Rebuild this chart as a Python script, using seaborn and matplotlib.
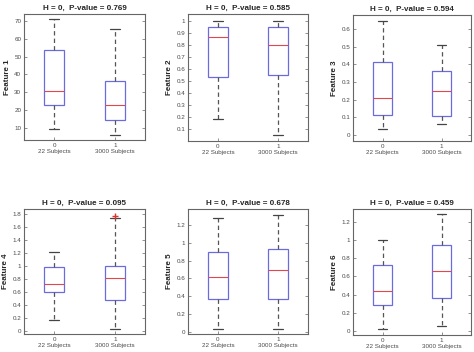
import numpy as np
import pandas as pd
import matplotlib
matplotlib.use("Agg")
import matplotlib.pyplot as plt
import seaborn as sns
from matplotlib.ticker import FormatStrFormatter

features = ["Feature 1", "Feature 2", "Feature 3", "Feature 4", "Feature 5", "Feature 6"]
h_values = ["0", "0", "0", "0", "0", "0"]
p_values = ["0.769", "0.585", "0.594", "0.095", "0.678", "0.459"]
group_labels = ["0\n22 Subjects", "1\n3000 Subjects"]

# five-number summaries: [lower whisker, q1, median, q3, upper whisker]
g0_stats = [
    [9, 22.5, 30.5, 53.5, 71],
    [0.18, 0.535, 0.865, 0.95, 1.0],
    [0.035, 0.115, 0.21, 0.415, 0.645],
    [0.17, 0.61, 0.73, 0.98, 1.21],
    [0.04, 0.37, 0.62, 0.90, 1.27],
    [0.02, 0.29, 0.44, 0.725, 1.0],
]
g1_stats = [
    [6, 14, 23, 36.5, 65.5],
    [0.05, 0.55, 0.80, 0.95, 1.0],
    [0.06, 0.11, 0.25, 0.36, 0.51],
    [0.04, 0.48, 0.82, 1.0, 1.74],
    [0.04, 0.37, 0.70, 0.93, 1.31],
    [0.05, 0.36, 0.655, 0.95, 1.28],
]
g0_outliers = [[], [], [], [], [], []]
g1_outliers = [[], [], [], [1.77], [], []]

ylims = [(3, 74), (0, 1.055), (-0.034, 0.679), (-0.04, 1.877), (-0.02, 1.376), (-0.044, 1.34)]
yticks = [
    [10, 20, 30, 40, 50, 60, 70],
    [0.1, 0.2, 0.3, 0.4, 0.5, 0.6, 0.7, 0.8, 0.9, 1.0],
    [0, 0.1, 0.2, 0.3, 0.4, 0.5, 0.6],
    [0, 0.2, 0.4, 0.6, 0.8, 1.0, 1.2, 1.4, 1.6, 1.8],
    [0, 0.2, 0.4, 0.6, 0.8, 1.0, 1.2],
    [0, 0.2, 0.4, 0.6, 0.8, 1.0, 1.2],
]


def sample(stats, outliers):
    lo, q1, med, q3, hi = stats
    if not outliers:
        return [lo, q1, med, q3, hi]
    return [lo, q1, q1, med, med, q3, q3, hi] + list(outliers)


sns.set_style("white")
plt.rcParams["font.family"] = ["Liberation Sans", "DejaVu Sans"]

fig = plt.figure(figsize=(4.74, 3.52), dpi=100)
W, H = 474.0, 352.0
# axes boxes in pixels: left, top, right, bottom
boxes = [
    (24, 14, 145, 140), (188, 14, 308, 141), (353, 15, 471, 141),
    (24, 209, 145, 334), (188, 209, 308, 334), (353, 209, 471, 335),
]

for i in range(6):
    l, t, r, b = boxes[i]
    ax = fig.add_axes([l / W, (H - b) / H, (r - l) / W, (b - t) / H])
    v0 = sample(g0_stats[i], g0_outliers[i])
    v1 = sample(g1_stats[i], g1_outliers[i])
    df = pd.DataFrame({
        "group": [group_labels[0]] * len(v0) + [group_labels[1]] * len(v1),
        "value": v0 + v1,
    })
    sns.boxplot(
        data=df, x="group", y="value", order=group_labels, ax=ax,
        width=0.33, whis=1.45, color="white", linewidth=0.8,
        boxprops=dict(facecolor="white", edgecolor="#6b6be0", linewidth=0.9),
        medianprops=dict(color="#e0484f", linewidth=0.8),
        whiskerprops=dict(color="#555555", linestyle=(0, (3.5, 2.5)), linewidth=0.9),
        capprops=dict(color="#444444", linewidth=0.9),
        flierprops=dict(marker="+", markeredgecolor="#e03030", markersize=4, markeredgewidth=1.0),
    )
    ax.set_xlim(-0.5, 1.5)
    ax.set_ylim(*ylims[i])
    ax.set_yticks(yticks[i])
    ax.yaxis.set_major_formatter(FormatStrFormatter("%g"))
    ax.set_xlabel("")
    ax.set_ylabel(features[i], fontsize=5.8, fontweight="bold", labelpad=2.5)
    ax.set_title(f"H = {h_values[i]},  P-value = {p_values[i]}", fontsize=5.8,
                 fontweight="bold", pad=3)
    ax.tick_params(axis="both", labelsize=4.5, labelcolor="#4a4a4a", direction="in",
                   length=2, width=0.5, color="#666666", pad=2)
    ax.tick_params(axis="y", right=True, left=True)
    ax.tick_params(axis="x", top=False, bottom=True)
    for s in ax.spines.values():
        s.set_color("#666666")
        s.set_linewidth(0.8)
        s.set_visible(True)

fig.savefig("out.png", dpi=100, facecolor="white")
